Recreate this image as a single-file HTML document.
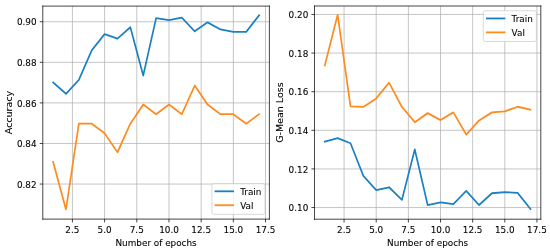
<!DOCTYPE html>
<html><head><meta charset="utf-8"><style>html,body{margin:0;padding:0;background:#fff;width:550px;height:252px;overflow:hidden}svg{display:block}svg{filter:blur(0.45px)}svg text{stroke:currentColor;stroke-width:0.1px;paint-order:stroke}</style></head><body>
<svg width="550" height="252" preserveAspectRatio="none" viewBox="0 0 621.468927 265.263158" version="1.1">
 <defs>
  <style type="text/css">*{stroke-linejoin: round; stroke-linecap: butt}</style>
 </defs>
 <g id="figure_1">
  <g id="patch_1">
   <path d="M 0 265.263158 
L 621.468927 265.263158 
L 621.468927 0 
L 0 0 
z
" style="fill: #ffffff"/>
  </g>
  <g id="axes_1">
   <g id="patch_2">
    <path d="M 48.361582 230.631579 
L 304.40678 230.631579 
L 304.40678 6.421053 
L 48.361582 6.421053 
z
" style="fill: #ffffff"/>
   </g>
   <g id="matplotlib.axis_1">
    <g id="xtick_1">
     <g id="line2d_1">
      <path d="M 81.822034 230.631579 
L 81.822034 6.421053 
" clip-path="url(#p493de7fd86)" style="fill: none; stroke: #b0b0b0; stroke-width: 0.8; stroke-linecap: square"/>
     </g>
     <g id="line2d_2">
      <defs>
       <path id="m1504cfccaf" d="M 0 0 
L 0 3.5 
" style="stroke: #000000; stroke-width: 0.8"/>
      </defs>
      <g>
       <use href="#m1504cfccaf" x="81.822034" y="230.631579" style="stroke: #000000; stroke-width: 0.8"/>
      </g>
     </g>
     <g id="text_1">
      <text style="font-size: 10px; font-family: 'DejaVu Sans', sans-serif; text-anchor: middle" x="81.822034" y="245.230016" transform="rotate(-0 81.822034 245.230016)">2.5</text>
     </g>
    </g>
    <g id="xtick_2">
     <g id="line2d_3">
      <path d="M 118.19209 230.631579 
L 118.19209 6.421053 
" clip-path="url(#p493de7fd86)" style="fill: none; stroke: #b0b0b0; stroke-width: 0.8; stroke-linecap: square"/>
     </g>
     <g id="line2d_4">
      <g>
       <use href="#m1504cfccaf" x="118.19209" y="230.631579" style="stroke: #000000; stroke-width: 0.8"/>
      </g>
     </g>
     <g id="text_2">
      <text style="font-size: 10px; font-family: 'DejaVu Sans', sans-serif; text-anchor: middle" x="118.19209" y="245.230016" transform="rotate(-0 118.19209 245.230016)">5.0</text>
     </g>
    </g>
    <g id="xtick_3">
     <g id="line2d_5">
      <path d="M 154.562147 230.631579 
L 154.562147 6.421053 
" clip-path="url(#p493de7fd86)" style="fill: none; stroke: #b0b0b0; stroke-width: 0.8; stroke-linecap: square"/>
     </g>
     <g id="line2d_6">
      <g>
       <use href="#m1504cfccaf" x="154.562147" y="230.631579" style="stroke: #000000; stroke-width: 0.8"/>
      </g>
     </g>
     <g id="text_3">
      <text style="font-size: 10px; font-family: 'DejaVu Sans', sans-serif; text-anchor: middle" x="154.562147" y="245.230016" transform="rotate(-0 154.562147 245.230016)">7.5</text>
     </g>
    </g>
    <g id="xtick_4">
     <g id="line2d_7">
      <path d="M 190.932203 230.631579 
L 190.932203 6.421053 
" clip-path="url(#p493de7fd86)" style="fill: none; stroke: #b0b0b0; stroke-width: 0.8; stroke-linecap: square"/>
     </g>
     <g id="line2d_8">
      <g>
       <use href="#m1504cfccaf" x="190.932203" y="230.631579" style="stroke: #000000; stroke-width: 0.8"/>
      </g>
     </g>
     <g id="text_4">
      <text style="font-size: 10px; font-family: 'DejaVu Sans', sans-serif; text-anchor: middle" x="190.932203" y="245.230016" transform="rotate(-0 190.932203 245.230016)">10.0</text>
     </g>
    </g>
    <g id="xtick_5">
     <g id="line2d_9">
      <path d="M 227.30226 230.631579 
L 227.30226 6.421053 
" clip-path="url(#p493de7fd86)" style="fill: none; stroke: #b0b0b0; stroke-width: 0.8; stroke-linecap: square"/>
     </g>
     <g id="line2d_10">
      <g>
       <use href="#m1504cfccaf" x="227.30226" y="230.631579" style="stroke: #000000; stroke-width: 0.8"/>
      </g>
     </g>
     <g id="text_5">
      <text style="font-size: 10px; font-family: 'DejaVu Sans', sans-serif; text-anchor: middle" x="227.30226" y="245.230016" transform="rotate(-0 227.30226 245.230016)">12.5</text>
     </g>
    </g>
    <g id="xtick_6">
     <g id="line2d_11">
      <path d="M 263.672316 230.631579 
L 263.672316 6.421053 
" clip-path="url(#p493de7fd86)" style="fill: none; stroke: #b0b0b0; stroke-width: 0.8; stroke-linecap: square"/>
     </g>
     <g id="line2d_12">
      <g>
       <use href="#m1504cfccaf" x="263.672316" y="230.631579" style="stroke: #000000; stroke-width: 0.8"/>
      </g>
     </g>
     <g id="text_6">
      <text style="font-size: 10px; font-family: 'DejaVu Sans', sans-serif; text-anchor: middle" x="263.672316" y="245.230016" transform="rotate(-0 263.672316 245.230016)">15.0</text>
     </g>
    </g>
    <g id="xtick_7">
     <g id="line2d_13">
      <path d="M 300.042373 230.631579 
L 300.042373 6.421053 
" clip-path="url(#p493de7fd86)" style="fill: none; stroke: #b0b0b0; stroke-width: 0.8; stroke-linecap: square"/>
     </g>
     <g id="line2d_14">
      <g>
       <use href="#m1504cfccaf" x="300.042373" y="230.631579" style="stroke: #000000; stroke-width: 0.8"/>
      </g>
     </g>
     <g id="text_7">
      <text style="font-size: 10px; font-family: 'DejaVu Sans', sans-serif; text-anchor: middle" x="300.042373" y="245.230016" transform="rotate(-0 300.042373 245.230016)">17.5</text>
     </g>
    </g>
    <g id="text_8">
     <text style="font-size: 10px; font-family: 'DejaVu Sans', sans-serif; text-anchor: middle" x="176.384181" y="258.908141" transform="rotate(-0 176.384181 258.908141)">Number of epochs</text>
    </g>
   </g>
   <g id="matplotlib.axis_2">
    <g id="ytick_1">
     <g id="line2d_15">
      <path d="M 48.361582 193.74726 
L 304.40678 193.74726 
" clip-path="url(#p493de7fd86)" style="fill: none; stroke: #b0b0b0; stroke-width: 0.8; stroke-linecap: square"/>
     </g>
     <g id="line2d_16">
      <defs>
       <path id="m5d545ce8f8" d="M 0 0 
L -3.5 0 
" style="stroke: #000000; stroke-width: 0.8"/>
      </defs>
      <g>
       <use href="#m5d545ce8f8" x="48.361582" y="193.74726" style="stroke: #000000; stroke-width: 0.8"/>
      </g>
     </g>
     <g id="text_9">
      <text style="font-size: 10px; font-family: 'DejaVu Sans', sans-serif; text-anchor: end" x="41.361582" y="197.546479" transform="rotate(-0 41.361582 197.546479)">0.82</text>
     </g>
    </g>
    <g id="ytick_2">
     <g id="line2d_17">
      <path d="M 48.361582 151.032357 
L 304.40678 151.032357 
" clip-path="url(#p493de7fd86)" style="fill: none; stroke: #b0b0b0; stroke-width: 0.8; stroke-linecap: square"/>
     </g>
     <g id="line2d_18">
      <g>
       <use href="#m5d545ce8f8" x="48.361582" y="151.032357" style="stroke: #000000; stroke-width: 0.8"/>
      </g>
     </g>
     <g id="text_10">
      <text style="font-size: 10px; font-family: 'DejaVu Sans', sans-serif; text-anchor: end" x="41.361582" y="154.831576" transform="rotate(-0 41.361582 154.831576)">0.84</text>
     </g>
    </g>
    <g id="ytick_3">
     <g id="line2d_19">
      <path d="M 48.361582 108.317454 
L 304.40678 108.317454 
" clip-path="url(#p493de7fd86)" style="fill: none; stroke: #b0b0b0; stroke-width: 0.8; stroke-linecap: square"/>
     </g>
     <g id="line2d_20">
      <g>
       <use href="#m5d545ce8f8" x="48.361582" y="108.317454" style="stroke: #000000; stroke-width: 0.8"/>
      </g>
     </g>
     <g id="text_11">
      <text style="font-size: 10px; font-family: 'DejaVu Sans', sans-serif; text-anchor: end" x="41.361582" y="112.116673" transform="rotate(-0 41.361582 112.116673)">0.86</text>
     </g>
    </g>
    <g id="ytick_4">
     <g id="line2d_21">
      <path d="M 48.361582 65.602551 
L 304.40678 65.602551 
" clip-path="url(#p493de7fd86)" style="fill: none; stroke: #b0b0b0; stroke-width: 0.8; stroke-linecap: square"/>
     </g>
     <g id="line2d_22">
      <g>
       <use href="#m5d545ce8f8" x="48.361582" y="65.602551" style="stroke: #000000; stroke-width: 0.8"/>
      </g>
     </g>
     <g id="text_12">
      <text style="font-size: 10px; font-family: 'DejaVu Sans', sans-serif; text-anchor: end" x="41.361582" y="69.40177" transform="rotate(-0 41.361582 69.40177)">0.88</text>
     </g>
    </g>
    <g id="ytick_5">
     <g id="line2d_23">
      <path d="M 48.361582 22.887648 
L 304.40678 22.887648 
" clip-path="url(#p493de7fd86)" style="fill: none; stroke: #b0b0b0; stroke-width: 0.8; stroke-linecap: square"/>
     </g>
     <g id="line2d_24">
      <g>
       <use href="#m5d545ce8f8" x="48.361582" y="22.887648" style="stroke: #000000; stroke-width: 0.8"/>
      </g>
     </g>
     <g id="text_13">
      <text style="font-size: 10px; font-family: 'DejaVu Sans', sans-serif; text-anchor: end" x="41.361582" y="26.686867" transform="rotate(-0 41.361582 26.686867)">0.90</text>
     </g>
    </g>
    <g id="text_14">
     <text style="font-size: 10px; font-family: 'DejaVu Sans', sans-serif; text-anchor: middle" x="13.016269" y="118.526316" transform="rotate(-90 13.016269 118.526316)">Accuracy</text>
    </g>
   </g>
   <g id="line2d_25">
    <path d="M 60 86.746428 
L 74.548023 98.706601 
L 89.096045 83.969959 
L 103.644068 53.001654 
L 118.19209 35.915693 
L 132.740113 40.614333 
L 147.288136 28.65416 
L 161.836158 79.484894 
L 176.384181 19.043306 
L 190.932203 21.179052 
L 205.480226 18.616157 
L 220.028249 32.92565 
L 234.576271 23.528371 
L 249.124294 31.003479 
L 263.672316 33.566374 
L 278.220339 33.566374 
L 292.768362 16.053263 
" clip-path="url(#p493de7fd86)" style="fill: none; stroke: #1a80c4; stroke-width: 1.9; stroke-linecap: square"/>
   </g>
   <g id="line2d_26">
    <path d="M 60 170.284144 
L 74.548023 220.419007 
L 89.096045 130.176254 
L 103.644068 130.176254 
L 118.19209 140.203227 
L 132.740113 160.257172 
L 147.288136 130.176254 
L 161.836158 110.122309 
L 176.384181 120.149282 
L 190.932203 110.122309 
L 205.480226 120.149282 
L 220.028249 90.068364 
L 234.576271 110.122309 
L 249.124294 120.149282 
L 263.672316 120.149282 
L 278.220339 130.176254 
L 292.768362 120.149282 
" clip-path="url(#p493de7fd86)" style="fill: none; stroke: #ff8a1e; stroke-width: 1.9; stroke-linecap: square"/>
   </g>
   <g id="patch_3">
    <path d="M 48.361582 230.631579 
L 48.361582 6.421053 
" style="fill: none; stroke: #000000; stroke-width: 0.8; stroke-linejoin: miter; stroke-linecap: square"/>
   </g>
   <g id="patch_4">
    <path d="M 304.40678 230.631579 
L 304.40678 6.421053 
" style="fill: none; stroke: #000000; stroke-width: 0.8; stroke-linejoin: miter; stroke-linecap: square"/>
   </g>
   <g id="patch_5">
    <path d="M 48.361582 230.631579 
L 304.40678 230.631579 
" style="fill: none; stroke: #000000; stroke-width: 0.8; stroke-linejoin: miter; stroke-linecap: square"/>
   </g>
   <g id="patch_6">
    <path d="M 48.361582 6.421053 
L 304.40678 6.421053 
" style="fill: none; stroke: #000000; stroke-width: 0.8; stroke-linejoin: miter; stroke-linecap: square"/>
   </g>
   <g id="legend_1">
    <g id="patch_7">
     <path d="M 241.41928 225.631579 
L 297.40678 225.631579 
Q 299.40678 225.631579 299.40678 223.631579 
L 299.40678 195.275329 
Q 299.40678 193.275329 297.40678 193.275329 
L 241.41928 193.275329 
Q 239.41928 193.275329 239.41928 195.275329 
L 239.41928 223.631579 
Q 239.41928 225.631579 241.41928 225.631579 
z
" style="fill: #ffffff; opacity: 0.8; stroke: #cccccc; stroke-linejoin: miter"/>
    </g>
    <g id="line2d_27">
     <path d="M 243.41928 201.373766 
L 253.41928 201.373766 
L 263.41928 201.373766 
" style="fill: none; stroke: #1a80c4; stroke-width: 1.9; stroke-linecap: square"/>
    </g>
    <g id="text_15">
     <text style="font-size: 10px; font-family: 'DejaVu Sans', sans-serif; text-anchor: start" x="271.41928" y="204.873766" transform="rotate(-0 271.41928 204.873766)">Train</text>
    </g>
    <g id="line2d_28">
     <path d="M 243.41928 216.051891 
L 253.41928 216.051891 
L 263.41928 216.051891 
" style="fill: none; stroke: #ff8a1e; stroke-width: 1.9; stroke-linecap: square"/>
    </g>
    <g id="text_16">
     <text style="font-size: 10px; font-family: 'DejaVu Sans', sans-serif; text-anchor: start" x="271.41928" y="219.551891" transform="rotate(-0 271.41928 219.551891)">Val</text>
    </g>
   </g>
  </g>
  <g id="axes_2">
   <g id="patch_8">
    <path d="M 355.367232 230.736842 
L 611.073446 230.736842 
L 611.073446 6.315789 
L 355.367232 6.315789 
z
" style="fill: #ffffff"/>
   </g>
   <g id="matplotlib.axis_3">
    <g id="xtick_8">
     <g id="line2d_29">
      <path d="M 388.783385 230.736842 
L 388.783385 6.315789 
" clip-path="url(#pce7ba07e97)" style="fill: none; stroke: #b0b0b0; stroke-width: 0.8; stroke-linecap: square"/>
     </g>
     <g id="line2d_30">
      <g>
       <use href="#m1504cfccaf" x="388.783385" y="230.736842" style="stroke: #000000; stroke-width: 0.8"/>
      </g>
     </g>
     <g id="text_17">
      <text style="font-size: 10px; font-family: 'DejaVu Sans', sans-serif; text-anchor: middle" x="388.783385" y="245.33528" transform="rotate(-0 388.783385 245.33528)">2.5</text>
     </g>
    </g>
    <g id="xtick_9">
     <g id="line2d_31">
      <path d="M 425.10529 230.736842 
L 425.10529 6.315789 
" clip-path="url(#pce7ba07e97)" style="fill: none; stroke: #b0b0b0; stroke-width: 0.8; stroke-linecap: square"/>
     </g>
     <g id="line2d_32">
      <g>
       <use href="#m1504cfccaf" x="425.10529" y="230.736842" style="stroke: #000000; stroke-width: 0.8"/>
      </g>
     </g>
     <g id="text_18">
      <text style="font-size: 10px; font-family: 'DejaVu Sans', sans-serif; text-anchor: middle" x="425.10529" y="245.33528" transform="rotate(-0 425.10529 245.33528)">5.0</text>
     </g>
    </g>
    <g id="xtick_10">
     <g id="line2d_33">
      <path d="M 461.427196 230.736842 
L 461.427196 6.315789 
" clip-path="url(#pce7ba07e97)" style="fill: none; stroke: #b0b0b0; stroke-width: 0.8; stroke-linecap: square"/>
     </g>
     <g id="line2d_34">
      <g>
       <use href="#m1504cfccaf" x="461.427196" y="230.736842" style="stroke: #000000; stroke-width: 0.8"/>
      </g>
     </g>
     <g id="text_19">
      <text style="font-size: 10px; font-family: 'DejaVu Sans', sans-serif; text-anchor: middle" x="461.427196" y="245.33528" transform="rotate(-0 461.427196 245.33528)">7.5</text>
     </g>
    </g>
    <g id="xtick_11">
     <g id="line2d_35">
      <path d="M 497.749101 230.736842 
L 497.749101 6.315789 
" clip-path="url(#pce7ba07e97)" style="fill: none; stroke: #b0b0b0; stroke-width: 0.8; stroke-linecap: square"/>
     </g>
     <g id="line2d_36">
      <g>
       <use href="#m1504cfccaf" x="497.749101" y="230.736842" style="stroke: #000000; stroke-width: 0.8"/>
      </g>
     </g>
     <g id="text_20">
      <text style="font-size: 10px; font-family: 'DejaVu Sans', sans-serif; text-anchor: middle" x="497.749101" y="245.33528" transform="rotate(-0 497.749101 245.33528)">10.0</text>
     </g>
    </g>
    <g id="xtick_12">
     <g id="line2d_37">
      <path d="M 534.071007 230.736842 
L 534.071007 6.315789 
" clip-path="url(#pce7ba07e97)" style="fill: none; stroke: #b0b0b0; stroke-width: 0.8; stroke-linecap: square"/>
     </g>
     <g id="line2d_38">
      <g>
       <use href="#m1504cfccaf" x="534.071007" y="230.736842" style="stroke: #000000; stroke-width: 0.8"/>
      </g>
     </g>
     <g id="text_21">
      <text style="font-size: 10px; font-family: 'DejaVu Sans', sans-serif; text-anchor: middle" x="534.071007" y="245.33528" transform="rotate(-0 534.071007 245.33528)">12.5</text>
     </g>
    </g>
    <g id="xtick_13">
     <g id="line2d_39">
      <path d="M 570.392912 230.736842 
L 570.392912 6.315789 
" clip-path="url(#pce7ba07e97)" style="fill: none; stroke: #b0b0b0; stroke-width: 0.8; stroke-linecap: square"/>
     </g>
     <g id="line2d_40">
      <g>
       <use href="#m1504cfccaf" x="570.392912" y="230.736842" style="stroke: #000000; stroke-width: 0.8"/>
      </g>
     </g>
     <g id="text_22">
      <text style="font-size: 10px; font-family: 'DejaVu Sans', sans-serif; text-anchor: middle" x="570.392912" y="245.33528" transform="rotate(-0 570.392912 245.33528)">15.0</text>
     </g>
    </g>
    <g id="xtick_14">
     <g id="line2d_41">
      <path d="M 606.714818 230.736842 
L 606.714818 6.315789 
" clip-path="url(#pce7ba07e97)" style="fill: none; stroke: #b0b0b0; stroke-width: 0.8; stroke-linecap: square"/>
     </g>
     <g id="line2d_42">
      <g>
       <use href="#m1504cfccaf" x="606.714818" y="230.736842" style="stroke: #000000; stroke-width: 0.8"/>
      </g>
     </g>
     <g id="text_23">
      <text style="font-size: 10px; font-family: 'DejaVu Sans', sans-serif; text-anchor: middle" x="606.714818" y="245.33528" transform="rotate(-0 606.714818 245.33528)">17.5</text>
     </g>
    </g>
    <g id="text_24">
     <text style="font-size: 10px; font-family: 'DejaVu Sans', sans-serif; text-anchor: middle" x="483.220339" y="259.013405" transform="rotate(-0 483.220339 259.013405)">Number of epochs</text>
    </g>
   </g>
   <g id="matplotlib.axis_4">
    <g id="ytick_6">
     <g id="line2d_43">
      <path d="M 355.367232 218.473963 
L 611.073446 218.473963 
" clip-path="url(#pce7ba07e97)" style="fill: none; stroke: #b0b0b0; stroke-width: 0.8; stroke-linecap: square"/>
     </g>
     <g id="line2d_44">
      <g>
       <use href="#m5d545ce8f8" x="355.367232" y="218.473963" style="stroke: #000000; stroke-width: 0.8"/>
      </g>
     </g>
     <g id="text_25">
      <text style="font-size: 10px; font-family: 'DejaVu Sans', sans-serif; text-anchor: end" x="348.367232" y="222.273182" transform="rotate(-0 348.367232 222.273182)">0.10</text>
     </g>
    </g>
    <g id="ytick_7">
     <g id="line2d_45">
      <path d="M 355.367232 177.821289 
L 611.073446 177.821289 
" clip-path="url(#pce7ba07e97)" style="fill: none; stroke: #b0b0b0; stroke-width: 0.8; stroke-linecap: square"/>
     </g>
     <g id="line2d_46">
      <g>
       <use href="#m5d545ce8f8" x="355.367232" y="177.821289" style="stroke: #000000; stroke-width: 0.8"/>
      </g>
     </g>
     <g id="text_26">
      <text style="font-size: 10px; font-family: 'DejaVu Sans', sans-serif; text-anchor: end" x="348.367232" y="181.620508" transform="rotate(-0 348.367232 181.620508)">0.12</text>
     </g>
    </g>
    <g id="ytick_8">
     <g id="line2d_47">
      <path d="M 355.367232 137.168616 
L 611.073446 137.168616 
" clip-path="url(#pce7ba07e97)" style="fill: none; stroke: #b0b0b0; stroke-width: 0.8; stroke-linecap: square"/>
     </g>
     <g id="line2d_48">
      <g>
       <use href="#m5d545ce8f8" x="355.367232" y="137.168616" style="stroke: #000000; stroke-width: 0.8"/>
      </g>
     </g>
     <g id="text_27">
      <text style="font-size: 10px; font-family: 'DejaVu Sans', sans-serif; text-anchor: end" x="348.367232" y="140.967834" transform="rotate(-0 348.367232 140.967834)">0.14</text>
     </g>
    </g>
    <g id="ytick_9">
     <g id="line2d_49">
      <path d="M 355.367232 96.515942 
L 611.073446 96.515942 
" clip-path="url(#pce7ba07e97)" style="fill: none; stroke: #b0b0b0; stroke-width: 0.8; stroke-linecap: square"/>
     </g>
     <g id="line2d_50">
      <g>
       <use href="#m5d545ce8f8" x="355.367232" y="96.515942" style="stroke: #000000; stroke-width: 0.8"/>
      </g>
     </g>
     <g id="text_28">
      <text style="font-size: 10px; font-family: 'DejaVu Sans', sans-serif; text-anchor: end" x="348.367232" y="100.315161" transform="rotate(-0 348.367232 100.315161)">0.16</text>
     </g>
    </g>
    <g id="ytick_10">
     <g id="line2d_51">
      <path d="M 355.367232 55.863268 
L 611.073446 55.863268 
" clip-path="url(#pce7ba07e97)" style="fill: none; stroke: #b0b0b0; stroke-width: 0.8; stroke-linecap: square"/>
     </g>
     <g id="line2d_52">
      <g>
       <use href="#m5d545ce8f8" x="355.367232" y="55.863268" style="stroke: #000000; stroke-width: 0.8"/>
      </g>
     </g>
     <g id="text_29">
      <text style="font-size: 10px; font-family: 'DejaVu Sans', sans-serif; text-anchor: end" x="348.367232" y="59.662487" transform="rotate(-0 348.367232 59.662487)">0.18</text>
     </g>
    </g>
    <g id="ytick_11">
     <g id="line2d_53">
      <path d="M 355.367232 15.210594 
L 611.073446 15.210594 
" clip-path="url(#pce7ba07e97)" style="fill: none; stroke: #b0b0b0; stroke-width: 0.8; stroke-linecap: square"/>
     </g>
     <g id="line2d_54">
      <g>
       <use href="#m5d545ce8f8" x="355.367232" y="15.210594" style="stroke: #000000; stroke-width: 0.8"/>
      </g>
     </g>
     <g id="text_30">
      <text style="font-size: 10px; font-family: 'DejaVu Sans', sans-serif; text-anchor: end" x="348.367232" y="19.009813" transform="rotate(-0 348.367232 19.009813)">0.20</text>
     </g>
    </g>
    <g id="text_31">
     <text style="font-size: 10px; font-family: 'DejaVu Sans', sans-serif; text-anchor: middle" x="320.021919" y="118.526316" transform="rotate(-90 320.021919 118.526316)">G-Mean Loss</text>
    </g>
   </g>
   <g id="line2d_55">
    <path d="M 366.990241 149.161154 
L 381.519004 145.29915 
L 396.047766 150.787261 
L 410.576528 185.138771 
L 425.10529 200.18026 
L 439.634052 197.131309 
L 454.162815 210.343428 
L 468.691577 157.291689 
L 483.220339 215.831539 
L 497.749101 212.985852 
L 512.277863 214.815222 
L 526.806626 200.993313 
L 541.335388 215.831539 
L 555.86415 203.432474 
L 570.392912 202.212894 
L 584.921674 203.025947 
L 599.450437 220.10007 
" clip-path="url(#pce7ba07e97)" style="fill: none; stroke: #1a80c4; stroke-width: 1.9; stroke-linecap: square"/>
   </g>
   <g id="line2d_56">
    <path d="M 366.990241 68.872124 
L 381.519004 15.617121 
L 396.047766 111.963958 
L 410.576528 112.573748 
L 425.10529 103.63016 
L 439.634052 86.962564 
L 454.162815 112.573748 
L 468.691577 128.631554 
L 483.220339 119.078176 
L 497.749101 126.395657 
L 512.277863 118.265122 
L 526.806626 141.64041 
L 541.335388 126.802184 
L 555.86415 118.265122 
L 570.392912 117.248806 
L 584.921674 112.370485 
L 599.450437 115.419435 
" clip-path="url(#pce7ba07e97)" style="fill: none; stroke: #ff8a1e; stroke-width: 1.9; stroke-linecap: square"/>
   </g>
   <g id="patch_9">
    <path d="M 355.367232 230.736842 
L 355.367232 6.315789 
" style="fill: none; stroke: #000000; stroke-width: 0.8; stroke-linejoin: miter; stroke-linecap: square"/>
   </g>
   <g id="patch_10">
    <path d="M 611.073446 230.736842 
L 611.073446 6.315789 
" style="fill: none; stroke: #000000; stroke-width: 0.8; stroke-linejoin: miter; stroke-linecap: square"/>
   </g>
   <g id="patch_11">
    <path d="M 355.367232 230.736842 
L 611.073446 230.736842 
" style="fill: none; stroke: #000000; stroke-width: 0.8; stroke-linejoin: miter; stroke-linecap: square"/>
   </g>
   <g id="patch_12">
    <path d="M 355.367232 6.315789 
L 611.073446 6.315789 
" style="fill: none; stroke: #000000; stroke-width: 0.8; stroke-linejoin: miter; stroke-linecap: square"/>
   </g>
   <g id="legend_2">
    <g id="patch_13">
     <path d="M 548.085946 43.672039 
L 604.073446 43.672039 
Q 606.073446 43.672039 606.073446 41.672039 
L 606.073446 13.315789 
Q 606.073446 11.315789 604.073446 11.315789 
L 548.085946 11.315789 
Q 546.085946 11.315789 546.085946 13.315789 
L 546.085946 41.672039 
Q 546.085946 43.672039 548.085946 43.672039 
z
" style="fill: #ffffff; opacity: 0.8; stroke: #cccccc; stroke-linejoin: miter"/>
    </g>
    <g id="line2d_57">
     <path d="M 550.085946 19.414227 
L 560.085946 19.414227 
L 570.085946 19.414227 
" style="fill: none; stroke: #1a80c4; stroke-width: 1.9; stroke-linecap: square"/>
    </g>
    <g id="text_32">
     <text style="font-size: 10px; font-family: 'DejaVu Sans', sans-serif; text-anchor: start" x="578.085946" y="22.914227" transform="rotate(-0 578.085946 22.914227)">Train</text>
    </g>
    <g id="line2d_58">
     <path d="M 550.085946 34.092352 
L 560.085946 34.092352 
L 570.085946 34.092352 
" style="fill: none; stroke: #ff8a1e; stroke-width: 1.9; stroke-linecap: square"/>
    </g>
    <g id="text_33">
     <text style="font-size: 10px; font-family: 'DejaVu Sans', sans-serif; text-anchor: start" x="578.085946" y="37.592352" transform="rotate(-0 578.085946 37.592352)">Val</text>
    </g>
   </g>
  </g>
 </g>
 <defs>
  <clipPath id="p493de7fd86">
   <rect x="48.361582" y="6.421053" width="256.045198" height="224.210526"/>
  </clipPath>
  <clipPath id="pce7ba07e97">
   <rect x="355.367232" y="6.315789" width="255.706215" height="224.421053"/>
  </clipPath>
 </defs>
</svg>

</body></html>
